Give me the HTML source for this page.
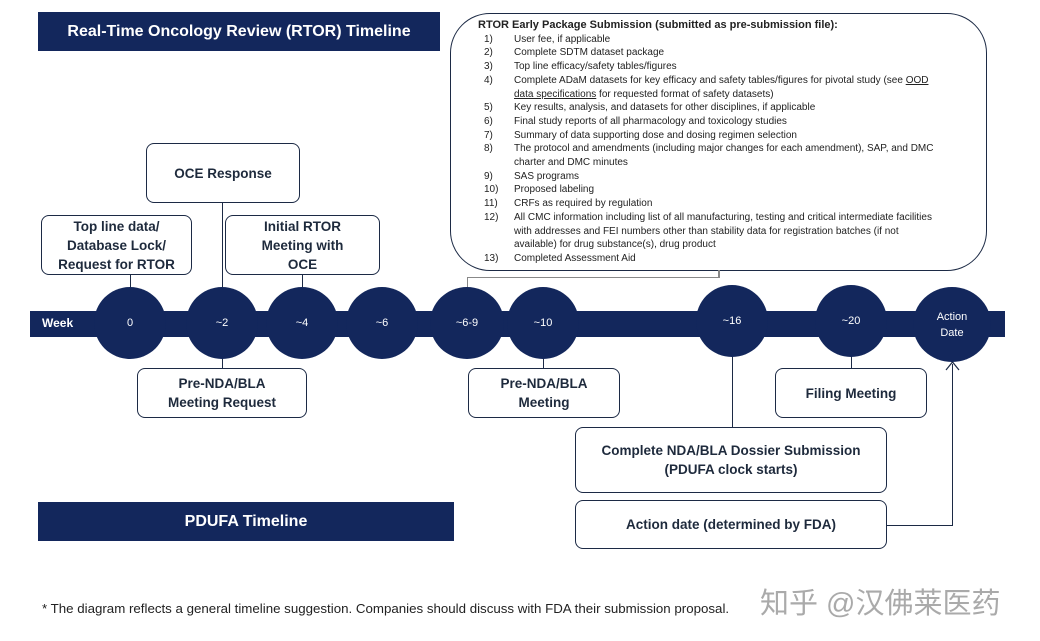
<!DOCTYPE html>
<html><head><meta charset="utf-8"><style>
body{margin:0;width:1040px;height:641px;background:#fff;position:relative;overflow:hidden;font-family:"Liberation Sans","Noto Sans CJK SC",sans-serif;}
.a{position:absolute;box-sizing:border-box;}
.hdr{background:#13275c;color:#fff;font-weight:bold;font-size:16px;display:flex;align-items:center;justify-content:center;}
.box{border:1.3px solid #1c2a45;border-radius:8px;background:#fff;display:flex;align-items:center;justify-content:center;text-align:center;font-weight:bold;font-size:13.5px;color:#1e2a3c;line-height:19px;}
.c{background:#13275c;border-radius:50%;color:#fff;font-size:11px;display:flex;align-items:center;justify-content:center;text-align:center;line-height:16px;}
.ln{background:#1c2a45;}
.lst{font-size:10px;color:#222;line-height:13.7px;}
.lst div{display:flex}.lst span{width:36px;flex:none;padding-left:6px;box-sizing:border-box}
</style></head><body>
<div class="a hdr" style="left:38px;top:12px;width:402px;height:39px;">Real-Time Oncology Review (RTOR) Timeline</div>
<div class="a hdr" style="left:38px;top:502px;width:416px;height:39px;">PDUFA Timeline</div>

<div class="a" style="left:450px;top:13px;width:537px;height:258px;border:1.3px solid #1c2a45;border-radius:40px;"></div>
<div class="a lst" style="left:478px;top:19px;width:466px;">
<div style="font-weight:bold;font-size:11px;">RTOR Early Package Submission (submitted as pre-submission file):</div>
<div><span>1)</span>User fee, if applicable</div>
<div><span>2)</span>Complete SDTM dataset package</div>
<div><span>3)</span>Top line efficacy/safety tables/figures</div>
<div><span>4)</span><p style="margin:0">Complete ADaM datasets for key efficacy and safety tables/figures for pivotal study (see <u>OOD data specifications</u> for requested format of safety datasets)</p></div>
<div><span>5)</span>Key results, analysis, and datasets for other disciplines, if applicable</div>
<div><span>6)</span>Final study reports of all pharmacology and toxicology studies</div>
<div><span>7)</span>Summary of data supporting dose and dosing regimen selection</div>
<div><span>8)</span><p style="margin:0">The protocol and amendments (including major changes for each amendment), SAP, and DMC charter and DMC minutes</p></div>
<div><span>9)</span>SAS programs</div>
<div><span>10)</span>Proposed labeling</div>
<div><span>11)</span>CRFs as required by regulation</div>
<div><span>12)</span><p style="margin:0">All CMC information including list of all manufacturing, testing and critical intermediate facilities with addresses and FEI numbers other than stability data for registration batches (if not available) for drug substance(s), drug product</p></div>
<div><span>13)</span>Completed Assessment Aid</div>
</div>

<!-- connectors -->
<div class="a ln" style="left:130px;top:275px;width:1px;height:20px;"></div>
<div class="a ln" style="left:222px;top:203px;width:1px;height:90px;"></div>
<div class="a ln" style="left:222px;top:350px;width:1px;height:20px;"></div>
<div class="a ln" style="left:302px;top:275px;width:1px;height:20px;"></div>
<div class="a" style="left:467px;top:277px;width:252px;height:12px;border-top:1.5px solid #888;border-left:1.5px solid #888;"></div>
<div class="a" style="left:718px;top:270px;width:1.5px;height:8px;background:#888;"></div>
<div class="a ln" style="left:543px;top:350px;width:1px;height:20px;"></div>
<div class="a ln" style="left:732px;top:350px;width:1px;height:78px;"></div>
<div class="a ln" style="left:851px;top:350px;width:1px;height:20px;"></div>
<div class="a ln" style="left:887px;top:525px;width:66px;height:1px;"></div>
<div class="a ln" style="left:952px;top:364px;width:1px;height:162px;"></div>
<svg class="a" style="left:945px;top:361px" width="15" height="10"><polyline points="1,9 7.5,1 14,9" fill="none" stroke="#1c2a45" stroke-width="1.2"/></svg>

<!-- timeline -->
<div class="a" style="left:30px;top:311px;width:975px;height:26px;background:#13275c;"></div>
<div class="a" style="left:42px;top:316px;color:#fff;font-weight:bold;font-size:12px;">Week</div>
<div class="a c" style="left:94px;top:287px;width:72px;height:72px;">0</div>
<div class="a c" style="left:186px;top:287px;width:72px;height:72px;">~2</div>
<div class="a c" style="left:266px;top:287px;width:72px;height:72px;">~4</div>
<div class="a c" style="left:346px;top:287px;width:72px;height:72px;">~6</div>
<div class="a c" style="left:430px;top:287px;width:74px;height:72px;">~6-9</div>
<div class="a c" style="left:507px;top:287px;width:72px;height:72px;">~10</div>
<div class="a c" style="left:696px;top:285px;width:72px;height:72px;">~16</div>
<div class="a c" style="left:815px;top:285px;width:72px;height:72px;">~20</div>
<div class="a c" style="left:913px;top:287px;width:78px;height:75px;">Action<br>Date</div>

<!-- boxes -->
<div class="a box" style="left:41px;top:215px;width:151px;height:60px;">Top line data/<br>Database Lock/<br>Request for RTOR</div>
<div class="a box" style="left:146px;top:143px;width:154px;height:60px;">OCE Response</div>
<div class="a box" style="left:225px;top:215px;width:155px;height:60px;">Initial RTOR<br>Meeting with<br>OCE</div>
<div class="a box" style="left:137px;top:368px;width:170px;height:50px;">Pre-NDA/BLA<br>Meeting Request</div>
<div class="a box" style="left:468px;top:368px;width:152px;height:50px;">Pre-NDA/BLA<br>Meeting</div>
<div class="a box" style="left:775px;top:368px;width:152px;height:50px;">Filing Meeting</div>
<div class="a box" style="left:575px;top:427px;width:312px;height:66px;">Complete NDA/BLA Dossier Submission<br>(PDUFA clock starts)</div>
<div class="a box" style="left:575px;top:500px;width:312px;height:49px;">Action date (determined by FDA)</div>

<div class="a" style="left:42px;top:601px;font-size:13.3px;color:#222;white-space:nowrap;">* The diagram reflects a general timeline suggestion. Companies should discuss with FDA their submission proposal.</div>
<div class="a" style="left:760px;top:580px;font-size:29px;color:#aaa;white-space:nowrap;">知乎 @汉佛莱医药</div>
</body></html>
